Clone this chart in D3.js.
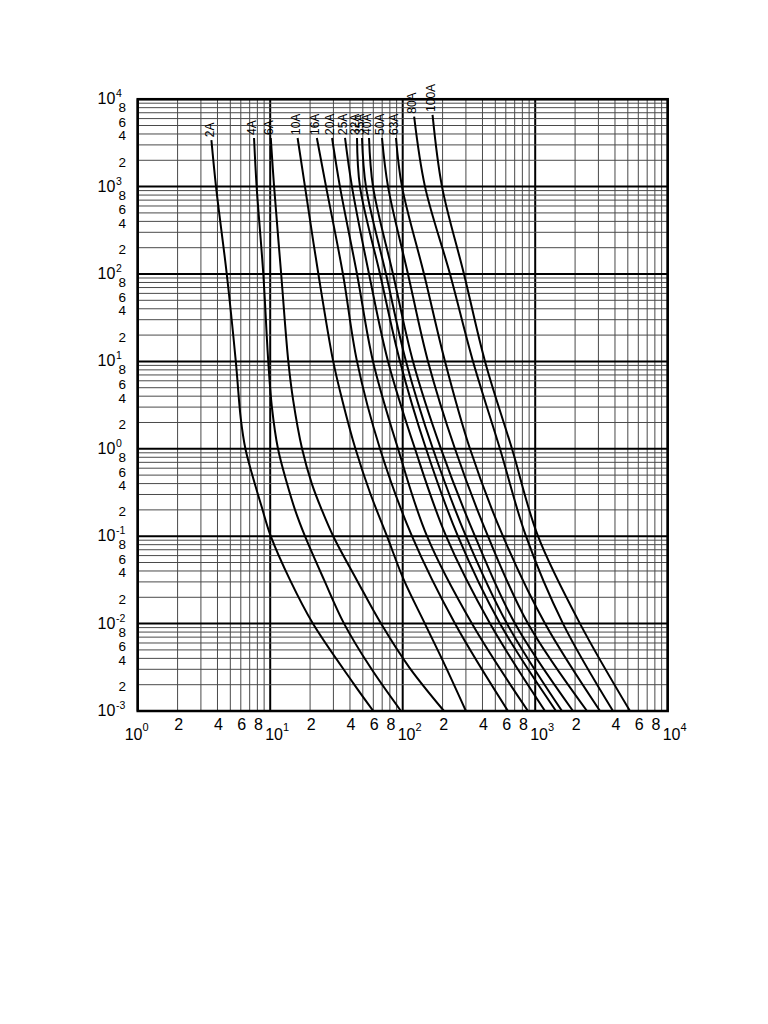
<!DOCTYPE html>
<html><head><meta charset="utf-8">
<script src="https://cdn.jsdelivr.net/npm/d3@7"></script>
<style>html,body{margin:0;padding:0;background:#fff}svg{display:block}</style>
</head><body>
<script>
// ---- data: [current (A), time (s)] ----
const ratings = ["2A","4A","6A","10A","16A","20A","25A","32A","35A","40A","50A","63A","80A","100A"];
const fuse2A  = [[3.6,3400],[3.9,1000],[4.7,100],[5.5,10],[6.0,2.2],[6.5,1],[7.2,0.55],[8.6,0.22],[10.1,0.1],[14.1,0.0316],[21,0.01],[42.2,0.0021],[60,0.001]];
const fuse4A  = [[7.55,3600],[7.9,1000],[8.87,100],[9.67,10],[10.3,3.0],[11.45,1],[13.4,0.4],[15.4,0.2],[18.3,0.1],[25.5,0.0316],[36.1,0.01],[57,0.00316],[97,0.001]];
const fuse6A  = [[10.1,3600],[10.7,1000],[12.1,100],[13.7,10],[14.9,3.6],[17.4,1],[20.6,0.4],[24.5,0.2],[29.9,0.1],[45,0.0316],[68.6,0.01],[112,0.00316],[205,0.001]];
const fuse10A = [[16.1,3600],[18.3,1000],[23.1,100],[29.9,10],[35,3.6],[44,1],[56.6,0.316],[76.1,0.1],[102,0.0316],[147,0.01],[212,0.00316],[300,0.001]];
const fuse16A = [[22.5,3600],[26.4,1000],[35.4,100],[45.2,10],[67.4,1],[117.5,0.1],[248,0.01],[623,0.001]];
const fuse20A = [[29.3,3600],[33.6,1000],[45.2,100],[59.7,10],[92.2,1],[152.6,0.1],[333,0.01],[882,0.001]];
const fuse25A = [[36.7,3600],[41.4,1000],[55.7,100],[77.5,10],[123.8,1],[212.6,0.1],[456,0.01],[1186,0.001]];
const fuse32A = [[45.2,3600],[47.6,1000],[67.4,100],[95.4,10],[150,1],[261,0.1],[542,0.01],[1436,0.001]];
const fuse35A = [[49.3,3600],[52.8,1000],[74.8,100],[105.9,10],[169,1],[300,0.1],[612,0.01],[1593,0.001]];
const fuse40A = [[55.7,3600],[59.7,1000],[84.5,100],[119.6,10],[194.5,1],[351,0.1],[704,0.01],[1929,0.001]];
const fuse50A = [[69.8,3600],[77.5,1000],[109.6,100],[155.2,10],[248,1],[440,0.1],[882,0.01],[2460,0.001]];
const fuse63A = [[89,3600],[98.8,1000],[144.8,100],[208.6,10],[322,1],[571,0.1],[1186,0.01],[3084,0.001]];
const fuse80A = [[122,6300],[147.3,1000],[227.5,100],[339.4,10],[542,1],[852,0.1],[1621,0.01],[3866,0.001]];
const fuse100A= [[168,6600],[198,1000],[290,100],[418,10],[668,1],[1050,0.1],[2178,0.01],[5194,0.001]];
const xDecades = [0,1,2,3,4];
const yDecades = [-3,-2,-1,0,1,2,3,4];
const minorLabels = [2,4,6,8];

const curves = [fuse2A,fuse4A,fuse6A,fuse10A,fuse16A,fuse20A,fuse25A,fuse32A,fuse35A,fuse40A,fuse50A,fuse63A,fuse80A,fuse100A]
  .map((pts,i)=>({label:ratings[i],pts}));

const W=768,H=1024;
const svg=d3.select("body").append("svg").attr("width",W).attr("height",H);
const x=d3.scaleLog().domain([1,1e4]).range([137.7,667.7]);
const y=d3.scaleLog().domain([1e-3,1e4]).range([711,99.2]);
const font="'Liberation Sans', Arial, Helvetica, sans-serif";

// grid
const g=svg.append("g");
const xs=[],ys=[];
for(let n=0;n<4;n++) for(let k=1;k<10;k++) xs.push({v:k*Math.pow(10,n),major:k===1});
xs.push({v:1e4,major:true});
for(let n=-3;n<4;n++) for(let k=1;k<10;k++) ys.push({v:k*Math.pow(10,n),major:k===1});
ys.push({v:1e4,major:true});
g.selectAll(".vx").data(xs).join("line")
  .attr("x1",d=>x(d.v)).attr("x2",d=>x(d.v)).attr("y1",y(1e4)).attr("y2",y(1e-3))
  .attr("stroke",d=>d.major?"#000":"#4a4a4a").attr("stroke-width",d=>d.major?2:1);
g.selectAll(".hy").data(ys).join("line")
  .attr("y1",d=>y(d.v)).attr("y2",d=>y(d.v)).attr("x1",x(1)).attr("x2",x(1e4))
  .attr("stroke",d=>d.major?"#000":"#4a4a4a").attr("stroke-width",d=>d.major?2:1);
// frame
svg.append("rect").attr("x",x(1)).attr("y",y(1e4)).attr("width",x(1e4)-x(1)).attr("height",y(1e-3)-y(1e4))
  .attr("fill","none").attr("stroke","#000").attr("stroke-width",2.5);

// curves
const line=d3.line().x(d=>x(d[0])).y(d=>y(d[1])).curve(d3.curveCatmullRom.alpha(0.5));
svg.append("g").selectAll("path").data(curves).join("path")
  .attr("d",d=>line(d.pts)).attr("fill","none").attr("stroke","#000").attr("stroke-width",2)
  .attr("stroke-linejoin","round");

// curve labels
svg.append("g").selectAll("text").data(curves).join("text")
  .attr("transform",d=>`translate(${x(d.pts[0][0])-2},${y(d.pts[0][1])-3}) rotate(-90)`)
  .attr("dy","0.35em").attr("font-family",font).attr("font-size",12).attr("fill","#000")
  .text(d=>d.label);

// y axis labels
const yl=svg.append("g").attr("font-family",font).attr("fill","#000");
yDecades.forEach(e=>{
  const yy=y(Math.pow(10,e));
  yl.append("text").attr("x",97.5).attr("y",yy+5).attr("font-size",16).text("10");
  yl.append("text").attr("x",116).attr("y",yy-2).attr("font-size",10.5).text(e<0?"-"+(-e):String(e));
});
const digitShift={2:6.5,4:6.5,6:8.5,8:4.5};
yDecades.slice(1).forEach(e=>{
  minorLabels.forEach(k=>{
    const v=k*Math.pow(10,e-1);
    yl.append("text").attr("x",126).attr("y",y(v)+digitShift[k]).attr("text-anchor","end").attr("font-size",13.5).text(k);
  });
});
// x axis labels
const xl=svg.append("g").attr("font-family",font).attr("fill","#000");
xDecades.forEach(e=>{
  const xx=x(Math.pow(10,e))-(e===0?13:5);
  const t=xl.append("text").attr("x",xx).attr("y",740).attr("font-size",16).text("10");
  t.append("tspan").attr("font-size",11).attr("dy",-9).text(String(e));
});
xDecades.slice(0,4).forEach(e=>{
  minorLabels.forEach(k=>{
    const v=k*Math.pow(10,e);
    xl.append("text").attr("x",x(v)+1).attr("y",730).attr("text-anchor","middle").attr("font-size",16).text(k);
  });
});
</script>
</body></html>
